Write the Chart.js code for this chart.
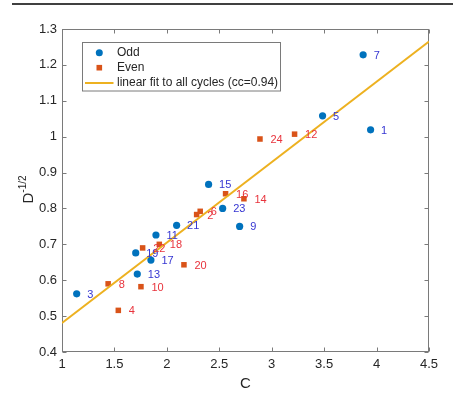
<!DOCTYPE html>
<html>
<head>
<meta charset="utf-8">
<script src="https://cdn.jsdelivr.net/npm/chart.js@4.4.1/dist/chart.umd.min.js"></script>
<style>
html,body{margin:0;padding:0;background:#fff;}
#wrap{position:relative;width:474px;height:397px;}
canvas{display:block;}
</style>
</head>
<body>
<div id="wrap"><canvas id="c" width="474" height="397"></canvas></div>
<script>
// ---- data ----
const oddLabels = ['1','3','5','7','9','11','13','15','17','19','21','23'];
const oddC = [3.943, 1.14, 3.485, 3.872, 2.694, 1.896, 1.718, 2.398, 1.848, 1.703, 2.093, 2.532];
const oddD = [1.019, 0.562, 1.058, 1.228, 0.750, 0.726, 0.617, 0.867, 0.656, 0.676, 0.753, 0.800];

const evenLabels = ['2','4','6','8','10','12','14','16','18','20','22','24'];
const evenC = [2.284, 1.537, 2.318, 1.44, 1.753, 3.218, 2.735, 2.56, 1.928, 2.163, 1.769, 2.888];
const evenD = [0.783, 0.516, 0.792, 0.590, 0.582, 1.007, 0.827, 0.841, 0.700, 0.643, 0.690, 0.9935];

const fitC = [1, 4.5];
const fitD = [0.481, 1.265];

const seriesNames = ['Odd', 'Even', 'linear fit to all cycles (cc=0.94)'];

const xTicks = [1, 1.5, 2, 2.5, 3, 3.5, 4, 4.5];
const xTickLabels = ['1', '1.5', '2', '2.5', '3', '3.5', '4', '4.5'];
const yTicks = [0.4, 0.5, 0.6, 0.7, 0.8, 0.9, 1.0, 1.1, 1.2, 1.3];
const yTickLabels = ['0.4', '0.5', '0.6', '0.7', '0.8', '0.9', '1', '1.1', '1.2', '1.3'];

const xTitle = 'C';
const yTitleBase = 'D';
const yTitleSup = '-1/2';

// ---- chart ----
const FONT = '"Liberation Sans", Arial, Helvetica, sans-serif';
const toPts = (xs, ys) => xs.map((x, i) => ({x: x, y: ys[i]}));

const decor = {
  id: 'decor',
  beforeDatasetsDraw(chart) {
    const ctx = chart.ctx, a = chart.chartArea;
    const xs = chart.scales.x, ys = chart.scales.y;
    ctx.save();
    // page rule
    ctx.strokeStyle = '#000';
    ctx.lineWidth = 1.6;
    ctx.beginPath(); ctx.moveTo(12, 4); ctx.lineTo(453, 4); ctx.stroke();
    // axes box
    ctx.strokeStyle = '#7a7a7a';
    ctx.lineWidth = 1;
    const L = Math.round(a.left) + 0.5, R = Math.round(a.right) - 0.5;
    const T = Math.round(a.top) + 0.5, B = Math.round(a.bottom) - 0.5;
    ctx.strokeRect(L, T, R - L, B - T);
    const tl = 4;
    ctx.beginPath();
    xTicks.forEach(v => {
      const px = Math.round(xs.getPixelForValue(v)) + 0.5;
      ctx.moveTo(px, B); ctx.lineTo(px, B - tl);
      ctx.moveTo(px, T); ctx.lineTo(px, T + tl);
    });
    yTicks.forEach(v => {
      const py = Math.round(ys.getPixelForValue(v)) + 0.5;
      ctx.moveTo(L, py); ctx.lineTo(L + tl, py);
      ctx.moveTo(R, py); ctx.lineTo(R - tl, py);
    });
    ctx.stroke();
    // axis titles
    ctx.fillStyle = '#262626';
    ctx.font = '15px ' + FONT;
    ctx.textAlign = 'center';
    ctx.textBaseline = 'middle';
    ctx.fillText(xTitle, (a.left + a.right) / 2, 384);
    ctx.translate(29, (a.top + a.bottom) / 2 - 1);
    ctx.rotate(-Math.PI / 2);
    ctx.font = '15px ' + FONT;
    const w1 = ctx.measureText(yTitleBase).width;
    ctx.font = '10px ' + FONT;
    const w2 = ctx.measureText(yTitleSup).width;
    const start = -(w1 + w2) / 2;
    ctx.textAlign = 'left';
    ctx.font = '15px ' + FONT;
    ctx.fillText(yTitleBase, start, 0);
    ctx.font = '10px ' + FONT;
    ctx.fillText(yTitleSup, start + w1, -6);
    ctx.restore();
  },
  afterDatasetsDraw(chart) {
    const ctx = chart.ctx;
    ctx.save();
    ctx.font = '11px ' + FONT;
    ctx.textAlign = 'left';
    ctx.textBaseline = 'middle';
    const groups = [[0, oddLabels, '#3636d2'], [1, evenLabels, '#e8333c']];
    groups.forEach(([di, labels, col]) => {
      const meta = chart.getDatasetMeta(di);
      ctx.fillStyle = col;
      meta.data.forEach((el, i) => ctx.fillText(labels[i], el.x + 10.5, el.y + 1));
    });
    // legend
    const bx = 82.5, by = 42.5, bw = 198, bh = 48.5;
    ctx.fillStyle = '#fff';
    ctx.fillRect(bx, by, bw, bh);
    ctx.strokeStyle = '#7a7a7a';
    ctx.lineWidth = 1;
    ctx.strokeRect(bx, by, bw, bh);
    const ds = chart.data.datasets;
    ctx.font = '12px ' + FONT;
    // odd
    ctx.fillStyle = ds[0].backgroundColor;
    ctx.beginPath(); ctx.arc(99.3, 52.7, 3.5, 0, Math.PI * 2); ctx.fill();
    // even
    ctx.fillStyle = ds[1].backgroundColor;
    ctx.fillRect(99.3 - 2.8, 67.7 - 2.8, 5.6, 5.6);
    // line
    ctx.strokeStyle = ds[2].borderColor;
    ctx.lineWidth = ds[2].borderWidth;
    ctx.beginPath(); ctx.moveTo(85, 83); ctx.lineTo(113.5, 83); ctx.stroke();
    ctx.fillStyle = '#262626';
    ctx.fillText(seriesNames[0], 117, 53);
    ctx.fillText(seriesNames[1], 117, 68);
    ctx.fillText(seriesNames[2], 117, 83);
    ctx.restore();
  }
};

new Chart(document.getElementById('c'), {
  type: 'scatter',
  data: {
    datasets: [
      {label: seriesNames[0], data: toPts(oddC, oddD), pointStyle: 'circle', pointRadius: 3.6,
       backgroundColor: '#0072BD', borderWidth: 0, order: 2},
      {label: seriesNames[1], data: toPts(evenC, evenD), pointStyle: 'rect', pointRadius: 3.9,
       backgroundColor: '#D95319', borderWidth: 0, order: 1},
      {label: seriesNames[2], type: 'line', data: toPts(fitC, fitD), borderColor: '#EDB120',
       borderWidth: 2, pointRadius: 0, fill: false, showLine: true, order: 0}
    ]
  },
  options: {
    responsive: false,
    animation: false,
    events: [],
    layout: {padding: {left: 0, top: 29, right: 45, bottom: 0}},
    plugins: {legend: {display: false}, tooltip: {enabled: false}},
    scales: {
      x: {
        type: 'linear', min: 1, max: 4.5,
        grid: {display: false, drawTicks: false}, border: {display: false},
        afterFit: s => { s.height = 45; },
        afterBuildTicks: s => { s.ticks = xTicks.map(v => ({value: v})); },
        ticks: {autoSkip: false, maxRotation: 0, padding: 5, color: '#262626',
                font: {family: FONT, size: 13},
                callback: (v, i) => xTickLabels[i]}
      },
      y: {
        type: 'linear', min: 0.4, max: 1.3,
        grid: {display: false, drawTicks: false}, border: {display: false},
        afterFit: s => { s.width = 62; },
        afterBuildTicks: s => { s.ticks = yTicks.map(v => ({value: v})); },
        ticks: {autoSkip: false, padding: 5, color: '#262626',
                font: {family: FONT, size: 13},
                callback: (v, i) => yTickLabels[i]}
      }
    }
  },
  plugins: [decor]
});
</script>
</body>
</html>
